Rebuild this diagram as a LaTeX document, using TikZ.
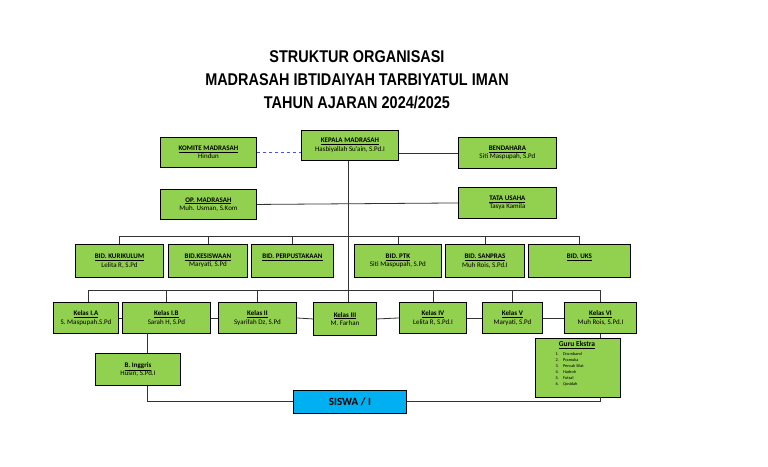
\documentclass[tikz,border=0pt]{standalone}
\usepackage{fontspec}
\setmainfont{Carlito}
\newfontfamily\titlefont{Liberation Sans}
\begin{document}
\begin{tikzpicture}[x=1pt,y=-1pt,
 box/.style={draw=black,line width=0.9pt,fill=boxgreen,align=center,font=\fontsize{7}{8.5}\selectfont,anchor=north west,inner sep=2pt},
 ln/.style={draw=black!80,line width=0.8pt},
 ttl/.style={font=\titlefont\bfseries\fontsize{17}{19}\selectfont}]
\definecolor{boxgreen}{RGB}{146,208,80}
\useasboundingbox (0,0) rectangle (768,466);
\newcommand{\bx}[7]{\node[box,minimum width=#4-#2,minimum height=#5-#3] (#1) at (#2,#3) {\underline{\textbf{#6}}\\#7};}
\node[ttl] (t1) at (357,57) {\scalebox{0.85}[1]{STRUKTUR ORGANISASI}};
\node[ttl] (t2) at (357,80) {\scalebox{0.85}[1]{MADRASAH IBTIDAIYAH TARBIYATUL IMAN}};
\node[ttl] (t3) at (357,103) {\scalebox{0.85}[1]{TAHUN AJARAN 2024/2025}};
% top level
\bx{kom}{160}{137}{256}{167}{KOMITE MADRASAH}{Hindun}
\bx{kep}{301}{130}{398}{160}{KEPALA MADRASAH}{Hasbiyallah Su'ain, S.Pd.I}
\bx{ben}{458}{137}{556}{168}{BENDAHARA}{Siti Maspupah, S.Pd}
\bx{op}{160}{189}{256}{219}{OP. MADRASAH}{Muh. Usman, S.Kom}
\bx{tu}{458}{187}{556}{218}{TATA USAHA}{Tasya Kamila}
% bidang
\bx{b1}{75}{244}{163}{277}{BID. KURIKULUM}{Lelita R, S.Pd}
\bx{b2}{168}{244}{247}{277}{BID.KESISWAAN}{Maryati, S.Pd}
\bx{b3}{251}{244}{333}{277}{BID. PERPUSTAKAAN}{\phantom{X}}
\bx{b4}{354}{244}{441}{277}{BID. PTK}{Siti Maspupah, S.Pd}
\bx{b5}{445}{244}{524}{277}{BID. SANPRAS}{Muh Rois, S.Pd.I}
\bx{b6}{528}{244}{630}{277}{BID. UKS}{\phantom{X}}
% kelas
\bx{k1}{53}{302}{118}{333}{Kelas I.A}{S. Maspupah.S.Pd}
\bx{k2}{122}{302}{210}{333}{Kelas I.B}{Sarah H, S.Pd}
\bx{k3}{218}{302}{296}{333}{Kelas II}{Syarifah Dz, S.Pd}
\bx{k4}{313}{302}{376}{335}{Kelas III}{M. Farhan}
\bx{k5}{399}{302}{466}{333}{Kelas IV}{Lelita R, S.Pd.I}
\bx{k6}{482}{302}{542}{333}{Kelas V}{Maryati, S.Pd}
\bx{k7}{564}{302}{636}{333}{Kelas VI}{Muh Rois, S.Pd.I}
\bx{bi}{95}{353}{180}{385}{B. Inggris}{Husin, S.Pd.I}
\node[box,minimum width=85,minimum height=59,anchor=north west,align=left,inner sep=3pt] (ge) at (535,338) {};
\node[font=\fontsize{7.5}{8}\selectfont\bfseries] (get) at (577,345) {\underline{Guru Ekstra}};
\node[font=\fontsize{4.3}{6}\selectfont,align=left,anchor=north west] (gel) at (552,349) {1.\quad Drumband\\2.\quad Pramuka\\3.\quad Pencak Silat\\4.\quad Hadroh\\5.\quad Futsal\\6.\quad Qosidah};
\node[draw=black,line width=0.9pt,fill=cyan!70!blue!60,minimum width=113,minimum height=23,anchor=north west,font=\bfseries\fontsize{11}{12}\selectfont] (sis) at (293,390) {SISWA / I};
\node[draw=black,line width=0.9pt,fill={rgb,255:red,0;green,176;blue,240},minimum width=113,minimum height=23,anchor=north west,font=\bfseries\fontsize{11}{12}\selectfont] (sis) at (293,390) {SISWA / I};
% connectors
\draw[ln] (kep.south) ++(-2,0) coordinate (vt) -- (vt |- k4.north);
\draw[blue!70,dashed,line width=0.7pt] (kom.east) -- (kom.east -| kep.west);
\draw[ln] (kep.east |- ben.west) -- (ben.west);
\draw[ln] (op.east) -- (tu.west);
\coordinate (bb) at (0,236);
\draw[ln] (b1.north |- bb) -- (b6.north |- bb);
\foreach \n in {b1,b2,b3,b4,b5,b6} \draw[ln] (\n.north |- bb) -- (\n.north);
\coordinate (kb) at (0,290);
\draw[ln] (88,290) coordinate (kl) -- (600,290) coordinate (kr);
\draw[ln] (kl) -- (kl |- k1.north);
\draw[ln] (kr) -- (kr |- k7.north);
\foreach \n in {k2,k3,k5,k6} \draw[ln] (\n.north |- kb) -- (\n.north);
\draw[ln] (k1.east) -- (k2.west);
\draw[ln] (k2.east) -- (k3.west);
\draw[ln] (k3.east) -- (k4.west);
\draw[ln] (k4.east) -- (k5.west);
\draw[ln] (k5.east) -- (k6.west);
\draw[ln] (k6.east) -- (k7.west);
\draw[ln] (147,333) coordinate (bt) -- (bt |- bi.north);
\draw[ln] (kr |- k7.south) -- (kr |- ge.north);
\draw[ln] (bt |- bi.south) -- (147,401) -- (sis.west |- 0,401);
\draw[ln] (sis.east |- 0,401) -- (600,401) -- (600,397);
\end{tikzpicture}
\end{document}
